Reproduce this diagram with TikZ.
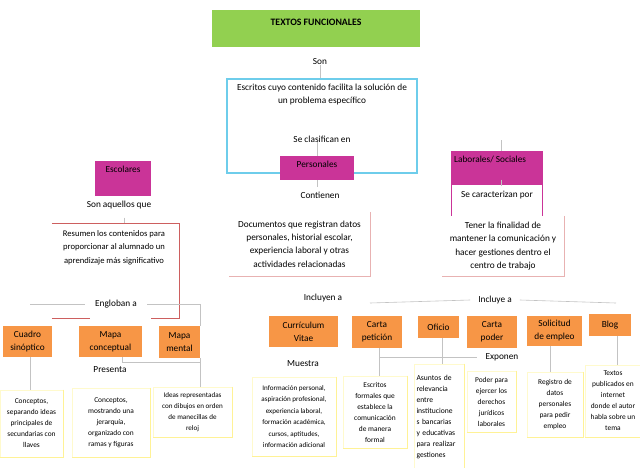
\documentclass[tikz,border=0pt]{standalone}
\usepackage{fontspec}
\setmainfont{Carlito}
\definecolor{tgreen}{RGB}{146,208,80}
\definecolor{tmag}{RGB}{202,52,152}
\definecolor{torange}{RGB}{247,150,70}
\definecolor{tcyan}{RGB}{110,205,235}
\definecolor{tpink}{RGB}{232,178,178}
\definecolor{tred}{RGB}{205,95,95}
\definecolor{tgrey}{RGB}{195,195,195}
\definecolor{tyel}{RGB}{255,242,150}
\definecolor{tyell}{RGB}{255,250,205}
\begin{document}
\begin{tikzpicture}[x=1pt,y=-1pt,
  txt/.style={inner sep=0pt, align=center, font=\fontsize{9.3}{13.3}\selectfont},
  small/.style={inner sep=0pt, align=center, font=\fontsize{7.4}{11}\selectfont},
  obox/.style={fill=torange, inner sep=0pt, align=center, font=\fontsize{9.3}{13}\selectfont},
  ybox/.style={draw=tyell, line width=0.6pt, inner sep=0pt, align=center, font=\fontsize{7.4}{11}\selectfont},
  yshadow/.style={draw=tyel, line width=1.3pt},
  gl/.style={draw=tgrey, line width=0.6pt},
  pinkl/.style={draw=tpink, line width=1pt},
  redl/.style={draw=tred, line width=0.9pt},
  mfill/.style={fill=tmag, inner sep=0pt}
]
\useasboundingbox (0,0) rectangle (640,467);

% title
\node[fill=tgreen, minimum width=208pt, minimum height=37pt, inner sep=0pt] (tbox) at (316,28.5) {};
\node[inner sep=0pt, font=\bfseries\fontsize{9.8}{10}\selectfont] (ttl) at (316,22) {TEXTOS FUNCIONALES};

\node[txt] (son) at (320,62) {Son};

% cyan box
\node[draw=tcyan, line width=1.1pt, minimum width=190pt, minimum height=94pt, inner sep=0pt] (esc) at (322,126) {};
\node[txt] (esct) at (322,94.5) {Escritos cuyo contenido facilita la solución de\\un problema específico};
\node[txt] (clas) at (322,139) {Se clasifican en};
\node[mfill, minimum width=74pt, minimum height=24pt] (per) at (317,168) {};
\node[txt] (pert) at (317,164.5) {Personales};
\node[txt] (cont) at (320,195) {Contienen};

\draw[gl] (son.south) -- (son.south |- esc.north);
\draw[gl] (clas.south -| per.north) -- (per.north);
\draw[gl] (per.south) -- ++(0,7);

% documentos
\node[txt, minimum width=141pt, minimum height=64pt] (doc) at (299.5,244) {Documentos que registran datos\\personales, historial escolar,\\experiencia laboral y otras\\actividades relacionadas};
\draw[pinkl] (doc.north east) -- (doc.south east) -- (doc.south west);

% laborales
\fill[tmag] (451,151) rectangle (542,185);
\node[draw=tmag, line width=0.9pt, minimum width=91pt, minimum height=65pt, inner sep=0pt] (lab) at (496.5,183.5) {};
\node[txt, anchor=west] (labt) at (454,159.5) {Laborales/ Sociales};
\coordinate (labtop) at (501,140);
\draw[gl] (labtop) -- (labtop |- lab.north);
\coordinate (labk1) at (501,179.5);
\coordinate (labk2) at (501,185.5);
\draw[gl] (labk1) -- (labk2);
\node[txt] (carac) at (497,195) {Se caracterizan por};
\node[txt, minimum width=122pt, minimum height=60pt, fill=white] (ten) at (503,246) {Tener la finalidad de\\mantener la comunicación y\\hacer gestiones dentro el\\centro de trabajo};
\draw[pinkl] (ten.north east) -- (ten.south east) -- (ten.south west);

% escolares
\node[mfill, minimum width=56pt, minimum height=35pt] (escol) at (123,178.5) {};
\node[txt] (escolt) at (123,169.5) {Escolares};
\node[txt] (aq) at (119,205) {Son aquellos que};
\coordinate (aqk1) at (124,217.5);
\coordinate (aqk2) at (124,222.5);
\draw[gl] (aqk1) -- (aqk2);
\node[minimum width=127pt, minimum height=94pt, inner sep=0pt] (res) at (115.5,271) {};
\node[txt, font=\fontsize{8.6}{13.5}\selectfont] (rest) at (114,247.5) {Resumen los contenidos para\\proporcionar al alumnado un\\aprendizaje más significativo};
\draw[redl] (res.north west) -- (res.north east) -- (res.south east) -- ++(-28,0);
\draw[redl] (res.south west) -- ++(38,0);

\node[txt] (eng) at (116,304) {Engloban a};

% orange boxes left
\node[obox, minimum width=49pt, minimum height=31pt] (cs) at (27.5,341.5) {Cuadro\\sinóptico};
\node[obox, minimum width=63pt, minimum height=31pt] (mc) at (110.5,341.5) {Mapa\\conceptual};
\node[obox, minimum width=41pt, minimum height=32pt] (mm) at (179.5,342) {Mapa\\mental};

\draw[gl] ([xshift=-10pt]eng.west) -- (30,304);
\draw[gl] ([xshift=10pt]eng.east) -| (mm.north east);

\node[ybox, minimum width=63pt, minimum height=67pt] (y1) at (31.5,423.5) {Conceptos,\\separando ideas\\principales de\\secundarias con\\llaves};
\node[ybox, minimum width=78pt, minimum height=69pt] (y2) at (111,422.5) {Conceptos,\\mostrando una\\jerarquía,\\organizado con\\ramas y figuras};
\node[ybox, minimum width=79pt, minimum height=50pt, font=\fontsize{7.1}{11}\selectfont] (y3) at (192.5,412) {Ideas representadas\\con dibujos en orden\\de manecillas de\\reloj};
\foreach \n in {y1,y2,y3} \draw[yshadow] (\n.north east) -- (\n.south east) -- (\n.south west);

\draw[gl] ([xshift=2.5pt]cs.south) -- ([xshift=2.5pt]cs.south |- y1.north);
\coordinate (pj) at (200,362);
\draw[gl] ([xshift=11.5pt]mc.south) |- (pj);
\draw[gl] (mm.south east) -- (mm.south east |- y3.north);
\node[txt] (pres) at (110,370) {Presenta};

% right side
\node[txt] (incl) at (323,298) {Incluyen a};
\node[txt] (incl2) at (495,300) {Incluye a};
\draw[gl] ([xshift=-8pt]incl2.west) -- (370,303);
\draw[gl] ([xshift=8pt]incl2.east) -- (616,303);

\node[obox, minimum width=69pt, minimum height=31pt] (cv) at (303.5,331.5) {Currículum\\Vitae};
\node[obox, minimum width=50pt, minimum height=32pt] (cp) at (377,332) {Carta\\petición};
\node[obox, minimum width=41pt, minimum height=22pt] (of) at (438.5,327) {Oficio};
\node[obox, minimum width=50pt, minimum height=32pt] (cpo) at (492,332) {Carta\\poder};
\node[obox, minimum width=55pt, minimum height=30pt] (se) at (554.5,331) {Solicitud\\de empleo};
\node[obox, minimum width=42pt, minimum height=22pt] (bl) at (610,325) {Blog};

\node[txt] (mues) at (303,364) {Muestra};
\node[txt] (expo) at (502,357) {Exponen};

\node[ybox, minimum width=84pt, minimum height=79pt, font=\fontsize{7.1}{11.4}\selectfont] (y4) at (294,416.5) {Información personal,\\aspiración profesional,\\experiencia laboral,\\formación académica,\\cursos, aptitudes,\\información adicional};
\node[ybox, minimum width=64pt, minimum height=72pt] (y5) at (375,412) {Escritos\\formales que\\establece la\\comunicación\\de manera\\formal};
\node[ybox, minimum width=50pt, minimum height=106pt, align=left, text width=45pt, font=\fontsize{7.6}{10.9}\selectfont] (y6) at (439,417) {Asuntos de\\relevancia\\entre\\institucione\\s bancarias\\y educativas\\para realizar\\gestiones\\[12pt]};
\node[ybox, minimum width=49pt, minimum height=61pt] (y7) at (491.5,401.5) {Poder para\\ejercer los\\derechos\\jurídicos\\laborales};
\node[ybox, minimum width=56pt, minimum height=65pt] (y8) at (555,404.5) {Registro de\\datos\\personales\\para pedir\\empleo};
\node[ybox, minimum width=56pt, minimum height=72pt] (y9) at (613,401) {Textos\\publicados en\\internet\\donde el autor\\habla sobre un\\tema};
\foreach \n in {y4,y5,y6,y7,y8,y9} \draw[yshadow] (\n.north east) -- (\n.south east) -- (\n.south west);

\draw[gl] ([xshift=2pt]cp.south) -- ([xshift=2pt]cp.south |- y5.north);
\draw[gl] ([xshift=2pt]cp.south |- expo.west) -- ([xshift=-8pt]expo.west);
\draw[gl] ([xshift=3.5pt]of.south) -- ([xshift=3.5pt]of.south |- y6.north);
\draw[gl] ([xshift=-4.5pt]se.south) -- ([xshift=-4.5pt]se.south |- y8.north);
\draw[gl] ([xshift=7pt]bl.south) -- ([xshift=7pt]bl.south |- y9.north);
\end{tikzpicture}
\end{document}
